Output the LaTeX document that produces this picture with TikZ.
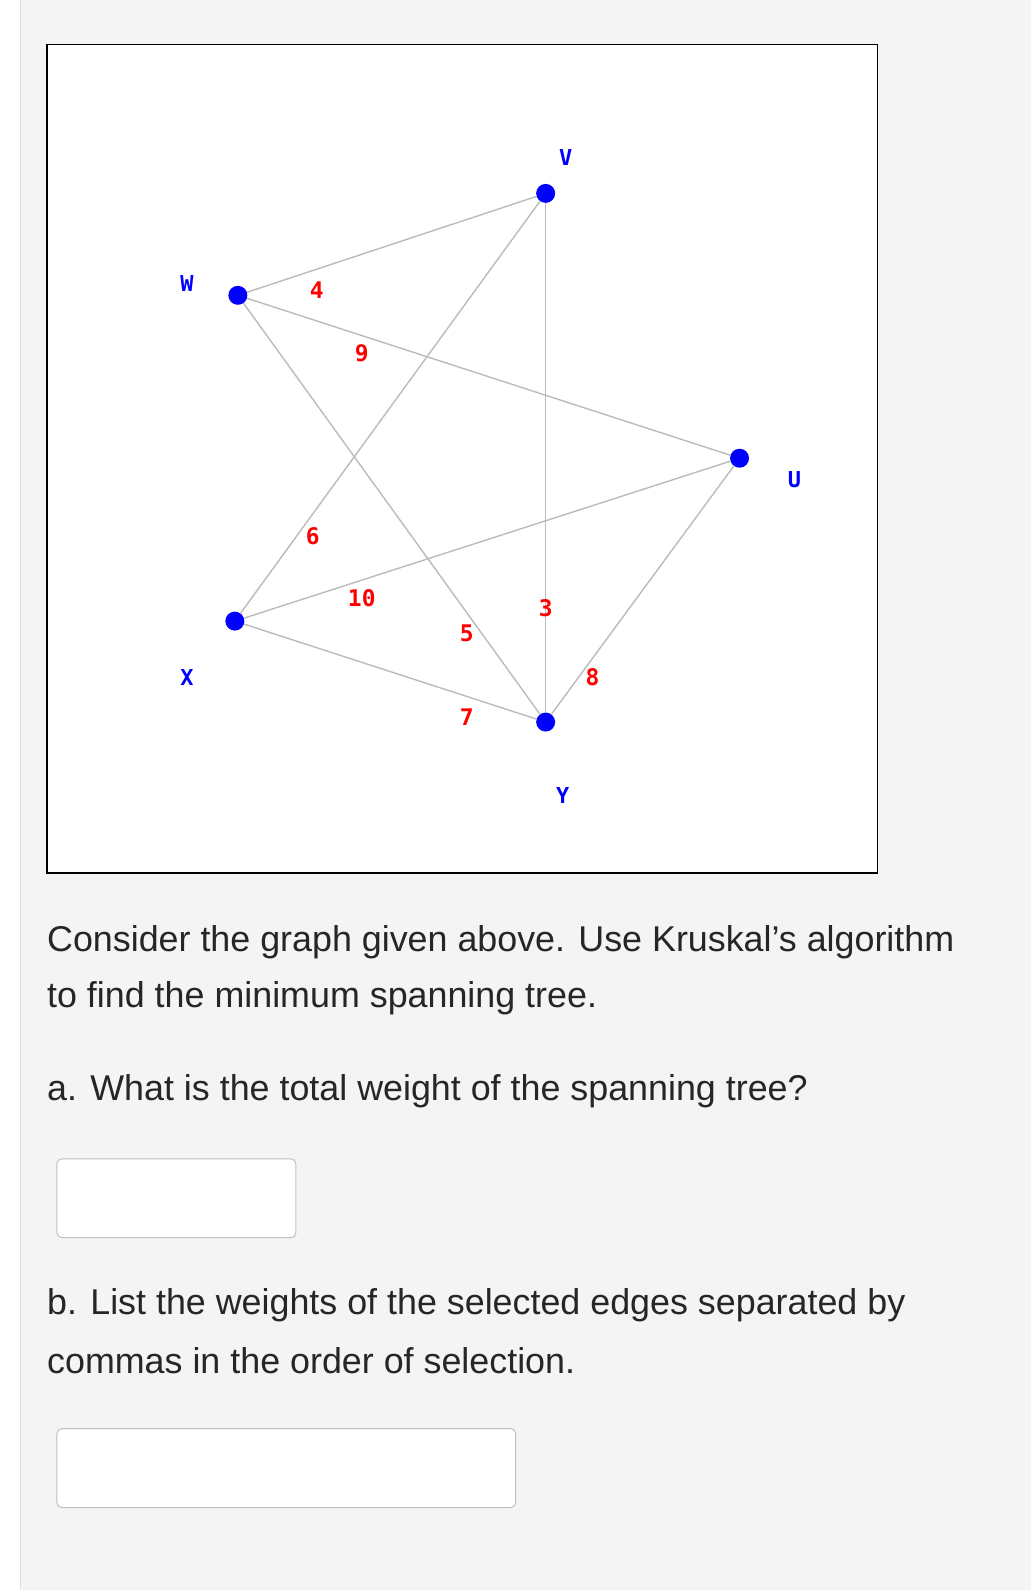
\documentclass[tikz,border=0pt]{standalone}
\usepackage{fontspec}
\setmainfont{Liberation Sans}
\newfontfamily\pix{DejaVu Sans Mono}
\definecolor{bg}{HTML}{F4F4F4}
\definecolor{edge}{HTML}{BBBBBB}
\definecolor{vblue}{HTML}{0000FF}
\definecolor{wred}{HTML}{FF0000}
\begin{document}
\begin{tikzpicture}[x=1bp,y=-1bp,
  vert/.style={circle,fill=vblue,inner sep=0pt,minimum size=19bp},
  vlab/.style={text=vblue,font=\pix\bfseries\fontsize{22}{22}\selectfont},
  wlab/.style={text=wred,font=\pix\bfseries\fontsize{23}{23}\selectfont,inner sep=1pt},
  gedge/.style={draw=edge,line width=1.4pt},
  qtext/.style={anchor=west,inner sep=0pt,font=\fontsize{36}{36}\selectfont,text=black!85},
  ibox/.style={draw=black!25,fill=white,rounded corners=5pt,line width=1pt}]
\fill[bg] (0,0) rectangle (1032,1590);
\fill[white] (0,0) rectangle (20,1590);
\draw[black!12,line width=1pt] (20.5,0) -- (20.5,1590);
\draw[fill=white,line width=1.6pt] (47,44) rectangle (878,873);
\useasboundingbox (0,0) rectangle (1032,1590);
\node[vert] (V) at (546,193) {};
\node[vert] (W) at (238,295) {};
\node[vert] (U) at (740,458) {};
\node[vert] (X) at (235,621) {};
\node[vert] (Y) at (546,722) {};
\draw[gedge] (W) -- (V);
\draw[gedge] (W) -- (U);
\draw[gedge] (W) -- (Y);
\draw[gedge] (X) -- (V);
\draw[gedge] (X) -- (U);
\draw[gedge] (X) -- (Y);
\draw[gedge] (V) -- (Y);
\draw[gedge] (U) -- (Y);
\node[vlab] (lV) at (566,157) {V};
\node[vlab] (lW) at (187,283) {W};
\node[vlab] (lU) at (795,479) {U};
\node[vlab] (lX) at (187,677) {X};
\node[vlab] (lY) at (563,796) {Y};
\node[wlab] (w4) at (317,290) {4};
\node[wlab] (w9) at (362,353) {9};
\node[wlab] (w6) at (313,536) {6};
\node[wlab] (w10) at (362,598) {10};
\node[wlab] (w5) at (467,633) {5};
\node[wlab] (w3) at (546,608) {3};
\node[wlab] (w7) at (467,717) {7};
\node[wlab] (w8) at (593,677) {8};
\node[qtext] (q1) at (47,942) {Consider the graph given above. Use Kruskal\char39 s algorithm};
\node[qtext] (q2) at (47,998) {to find the minimum spanning tree.};
\node[qtext] (q3) at (47,1091) {a. What is the total weight of the spanning tree?};
\draw[ibox] (57,1159) rectangle (296,1238);
\node[qtext] (q4) at (47,1306) {b. List the weights of the selected edges separated by};
\node[qtext] (q5) at (47,1361) {commas in the order of selection.};
\draw[ibox] (57,1429) rectangle (516,1508);
\end{tikzpicture}
\end{document}
